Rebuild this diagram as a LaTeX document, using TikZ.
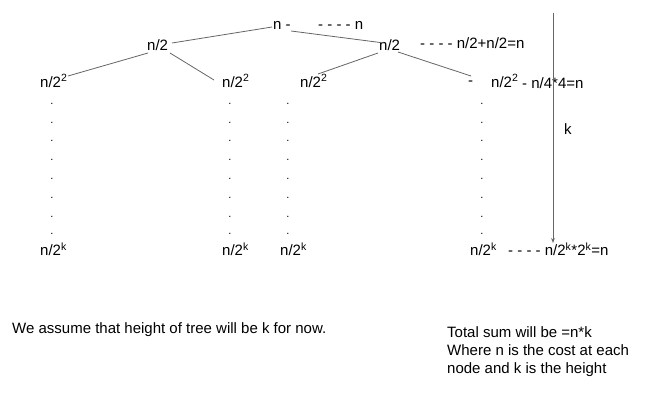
\documentclass[tikz,border=0pt]{standalone}
\usepackage{fontspec}
\usetikzlibrary{arrows.meta}
\setmainfont{Liberation Sans}
\begin{document}
\begin{tikzpicture}[x=1pt,y=-1pt,
  t/.style={inner sep=0pt,anchor=west,font=\fontsize{15}{18}\selectfont},
  e/.style={draw=black!60,line width=0.8pt},
  dot/.style={inner sep=0pt,font=\fontsize{11}{12}\selectfont}]
\clip (0,0) rectangle (661,404);
\fill[white] (0,0) rectangle (661,404);
\node[t] (r) at (273,25) {n -};
\node[t] (rs) at (318,25) {- - - - n};
\node[t] (a) at (147,45) {n/2};
\node[t] (b) at (379,45) {n/2};
\node[t] (bs) at (420,43) {- - - - n/2+n/2=n};
\node[t] (c1) at (40,81) {n/2\textsuperscript{2}};
\node[t] (c2) at (222,81) {n/2\textsuperscript{2}};
\node[t] (c3) at (300,81) {n/2\textsuperscript{2}};
\node[t] (c4m) at (468,83) {-};
\node[t] (c4) at (491,81) {n/2\textsuperscript{2}};
\node[t] (c4s) at (522,83) {- n/4*4=n};
\node[t] (d1) at (40,249) {n/2\textsuperscript{k}};
\node[t] (d2) at (222,249) {n/2\textsuperscript{k}};
\node[t] (d3) at (280,249) {n/2\textsuperscript{k}};
\node[t] (d4) at (470,249) {n/2\textsuperscript{k}};
\node[t] (d4s) at (508,249) {- - - - n/2\textsuperscript{k}*2\textsuperscript{k}=n};
\coordinate (p1) at (272,27); \coordinate (p2) at (172,43);
\coordinate (p3) at (291,31); \coordinate (p4) at (384,43);
\draw[e] (p1) -- (p2); \draw[e] (p3) -- (p4);
\draw[e] (148,53) -- (68,76);
\draw[e] (170,53) -- (214,80);
\draw[e] (378,53) -- (318,74);
\draw[e] (398,52) -- (471,76);
\foreach \x in {52,230,288,482}{
  \foreach \y [count=\i] in {104,123,141,160,179,198,217,234}{
    \node[dot] (dt\x-\i) at (\x,\y) {.};
  }}
\coordinate (ka) at (553,13); \coordinate (kb) at (553,243);
\draw[draw=black!60,line width=0.8pt,-{Stealth[length=5pt]}] (ka) -- (kb);
\node[t] (k) at (564,129) {k};
\node[t] (w) at (12,330) {We assume that height of tree will be k for now.};
\node[t,align=left,anchor=north west] (ts) at (447,326) {Total sum will be =n*k\\Where n is the cost at each\\node and k is the height};
\end{tikzpicture}
\end{document}
